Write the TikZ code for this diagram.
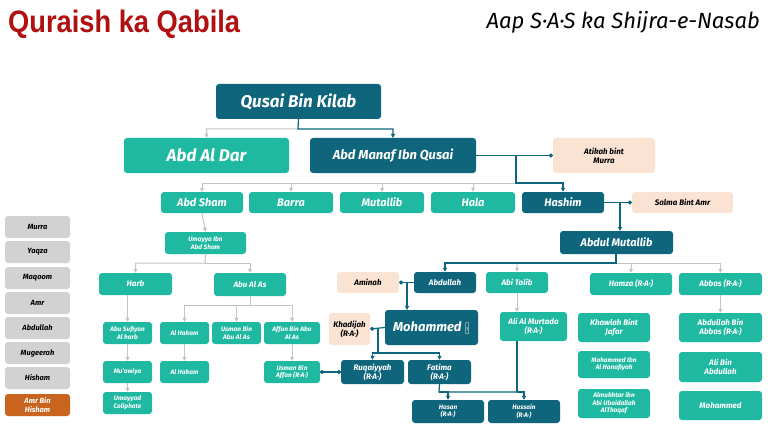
\documentclass[tikz,border=0pt]{standalone}
\usepackage{fontspec}
\setmainfont{Fira Sans}
\newfontfamily\titlefont{Liberation Sans}
\newfontfamily\arabicfont[Script=Arabic]{DejaVu Sans}
\usetikzlibrary{arrows.meta}
\definecolor{tl}{HTML}{1FB9A2}
\definecolor{dk}{HTML}{0F667C}
\definecolor{pc}{HTML}{FBE3D4}
\definecolor{gy}{HTML}{D2D2D2}
\definecolor{og}{HTML}{C9641E}
\definecolor{ln}{HTML}{C4C4C4}
\definecolor{rd}{HTML}{B01010}
\newcommand{\bx}[7]{\node[#2,minimum width={(#5-#3)*1pt},minimum height={(#6-#4)*1pt}] (#1) at ({(#3+#5)/2},{(#4+#6)/2}) {#7};}
\begin{document}
\begin{tikzpicture}[x=1pt,y=-1pt,
 base/.style={rounded corners=3pt,inner sep=1pt,align=center},
 T/.style={base,fill=tl,text=white},
 D/.style={base,fill=dk,text=white},
 P/.style={base,fill=pc,text=black},
 G/.style={base,fill=gy,text=black,font=\itshape\bfseries\fontsize{7.5}{8.5}\selectfont},
 O/.style={base,fill=og,text=white,font=\itshape\bfseries\fontsize{7.5}{8.5}\selectfont},
 big/.style={font=\itshape\bfseries\fontsize{17}{18}\selectfont},
 mid/.style={font=\itshape\bfseries\fontsize{13}{14}\selectfont},
 sm/.style={font=\itshape\bfseries\fontsize{11}{12}\selectfont},
 xs/.style={font=\itshape\bfseries\fontsize{8}{9}\selectfont},
 xxs/.style={font=\itshape\bfseries\fontsize{6.5}{7.5}\selectfont},
 ga/.style={draw=ln,line width=1pt,-{Triangle[length=4pt,width=4pt]}},
 da/.style={draw=dk,line width=1.2pt,-{Triangle[length=4pt,width=4pt]}},
 dd/.style={draw=dk,line width=1.2pt,-{Circle[length=4pt]}},
 dl/.style={draw=dk,line width=1.2pt}]
\useasboundingbox (0,0) rectangle (768,433);
\fill[white] (0,0) rectangle (768,433);
\node[anchor=west,text=rd,font=\titlefont\bfseries\fontsize{31}{33}\selectfont,xscale=0.88,inner sep=0] (title) at (8,24) {Quraish ka Qabila};
\node[anchor=east,font=\itshape\fontsize{22}{24}\selectfont,inner sep=0] (title2) at (760,22) {Aap S·A·S ka Shijra-e-Nasab};
% nodes
\bx{qusai}{D,big}{216}{84}{381}{119}{Qusai Bin Kilab}
\bx{dar}{T,big}{124}{138}{289}{173}{Abd Al Dar}
\bx{manaf}{D,mid}{310}{138}{476}{173}{Abd Manaf Ibn Qusai}
\bx{atikah}{P,xs}{553}{138}{655}{173}{Atikah bint\\Murra}
\bx{sham}{T,sm}{161}{192}{243}{213}{Abd Sham}
\bx{barra}{T,sm}{249}{192}{333}{213}{Barra}
\bx{mutallib}{T,sm}{340}{192}{424}{213}{Mutallib}
\bx{hala}{T,sm}{431}{192}{515}{213}{Hala}
\bx{hashim}{D,sm}{522}{192}{604}{213}{Hashim}
\bx{salma}{P,xs}{632}{192}{733}{213}{Salma Bint Amr}
\bx{amut}{D,sm}{560}{231}{673}{254}{Abdul Mutallib}
\bx{umayya}{T,xxs}{165}{232}{246}{254}{Umayya Ibn\\Abd Sham}
\bx{harb}{T,xs}{99}{273}{172}{295}{Harb}
\bx{abuas}{T,xs}{214}{273}{286}{296}{Abu Al As}
\bx{aminah}{P,xs}{337}{272}{399}{293}{Aminah}
\bx{abdullah}{D,xs}{414}{272}{476}{293}{Abdullah}
\bx{abitalib}{T,xs}{486}{272}{548}{293}{Abi Talib}
\bx{hamza}{T,xs}{590}{273}{672}{295}{Hamza (R·A·)}
\bx{abbas}{T,xs}{679}{273}{762}{295}{Abbas (R·A·)}
\bx{sufiyan}{T,xxs}{103}{322}{152}{344}{Abu Sufiyan\\Al harb}
\bx{hakam}{T,xxs}{160}{322}{209}{344}{Al Hakam}
\bx{usmanas}{T,xxs}{212}{322}{261}{344}{Usman Bin\\Abu Al As}
\bx{affan}{T,xxs}{264}{322}{320}{344}{Affan Bin Abu\\Al As}
\bx{khadijah}{P,xs}{329}{313}{370}{345}{Khadijah\\(R·A·)}
\bx{mohammed}{D,mid}{385}{310}{478}{345}{Mohammed {\arabicfont\normalfont\fontsize{8}{9}\selectfont ﷺ}}
\bx{ali}{T,xs}{500}{312}{567}{341}{Ali Al Murtada\\(R·A·)}
\bx{khawlah}{T,xs}{578}{313}{650}{342}{Khawlah Bint\\Jafar}
\bx{abdabbas}{T,xs}{679}{313}{762}{342}{Abdullah Bin\\Abbas (R·A·)}
\bx{muawiya}{T,xxs}{103}{361}{152}{383}{Mu'awiya}
\bx{hakam2}{T,xxs}{160}{361}{209}{383}{Al Hakam}
\bx{usman}{T,xxs}{264}{361}{320}{383}{Usman Bin\\Affan (R·A·)}
\bx{ruqaiyyah}{D,xs}{341}{360}{404}{384}{Ruqaiyyah\\(R·A·)}
\bx{fatima}{D,xs}{408}{360}{471}{384}{Fatima\\(R·A·)}
\bx{hanafiyah}{T,xxs}{578}{351}{650}{378}{Mohammed Ibn\\Al Hanafiyah}
\bx{alibin}{T,xs}{679}{352}{762}{382}{Ali Bin\\Abdullah}
\bx{caliph}{T,xxs}{103}{392}{152}{414}{Umayyad\\Caliphate}
\bx{mukhtar}{T,xxs}{578}{389}{650}{418}{Almukhtar ibn\\Abi Ubaidallah\\AlThaqaf}
\bx{mohabbas}{T,xs}{679}{391}{762}{420}{Mohammed}
\bx{hasan}{D,xxs}{412}{400}{484}{423}{Hasan\\(R·A·)}
\bx{hussain}{D,xxs}{488}{400}{560}{423}{Hussain\\(R·A·)}
\bx{g1}{G}{5}{216}{70}{238}{Murra}
\bx{g2}{G}{5}{241}{70}{263}{Yaqza}
\bx{g3}{G}{5}{267}{70}{289}{Maqoom}
\bx{g4}{G}{5}{292}{70}{314}{Amr}
\bx{g5}{G}{5}{317}{70}{339}{Abdullah}
\bx{g6}{G}{5}{342}{70}{364}{Mugeerah}
\bx{g7}{G}{5}{367}{70}{389}{Hisham}
\bx{g8}{O}{5}{394}{70}{416}{Amr Bin\\Hisham}
% gray connectors
\draw[ga] (qusai.south) -- (298,129) -| (dar.north);
\draw[ga] (516,183) -| (sham.north);
\draw[ga] (516,183) -| (barra.north);
\draw[ga] (516,183) -| (mutallib.north);
\draw[ga] (516,183) -| (hala.north);
\draw[ga] (sham.south) -- (umayya.north);
\draw[ga] (umayya.south) -- (205,263) -| (harb.north);
\draw[ga] (205,263) -| (abuas.north);
\draw[ga] (sufiyan.north |- harb.south) -- (sufiyan.north);
\draw[ga] (sufiyan.south) -- (muawiya.north);
\draw[ga] (muawiya.south) -- (caliph.north);
\draw[ga] (abuas.south) -- (250,305) -| (hakam.north);
\draw[ga] (250,305) -| (usmanas.north);
\draw[ga] (250,305) -| (affan.north);
\draw[ga] (hakam.south) -- (hakam2.north);
\draw[ga] (affan.south) -- (usman.north);
\draw[ga] (amut.south) -- (616,263) -| (abitalib.north);
\draw[ga] (616,263) -| (hamza.north);
\draw[ga] (616,263) -| (abbas.north);
\draw[ga] (abitalib.south) -- (517,312);
\draw[ga] (abbas.south) -- (abdabbas.north);
% lineage connectors
\draw[da] (qusai.south) -- (298,129) -| (393,138);
\draw[dd] (manaf.east) -- (atikah.west);
\draw[da] (516,156) -- (516,183) -| (hashim.north);
\draw[dd] (hashim.east) -- (salma.west);
\draw[da] (620,203) -- (620,231);
\draw[da] (616,254) -- (616,263) -| (abdullah.north);
\draw[dd] (abdullah.west) -- (aminah.east);
\draw[da] (407,283) -- (407,310);
\draw[dd] (mohammed.west) -- (khadijah.east);
\draw[da] (378,328) -- (378,353) -| (ruqaiyyah.north);
\draw[da] (378,353) -| (fatima.north);
\draw[dd] (ruqaiyyah.west) -- (usman.east);
\draw[dd] (usman.east) -- (ruqaiyyah.west);
\draw[dl] (fatima.south) -- (439,392) -- (517,392);
\draw[dl] (517,341) -- (517,392);
\draw[da] (439,392) -| (hasan.north);
\draw[da] (517,392) -| (hussain.north);
\end{tikzpicture}
\end{document}
